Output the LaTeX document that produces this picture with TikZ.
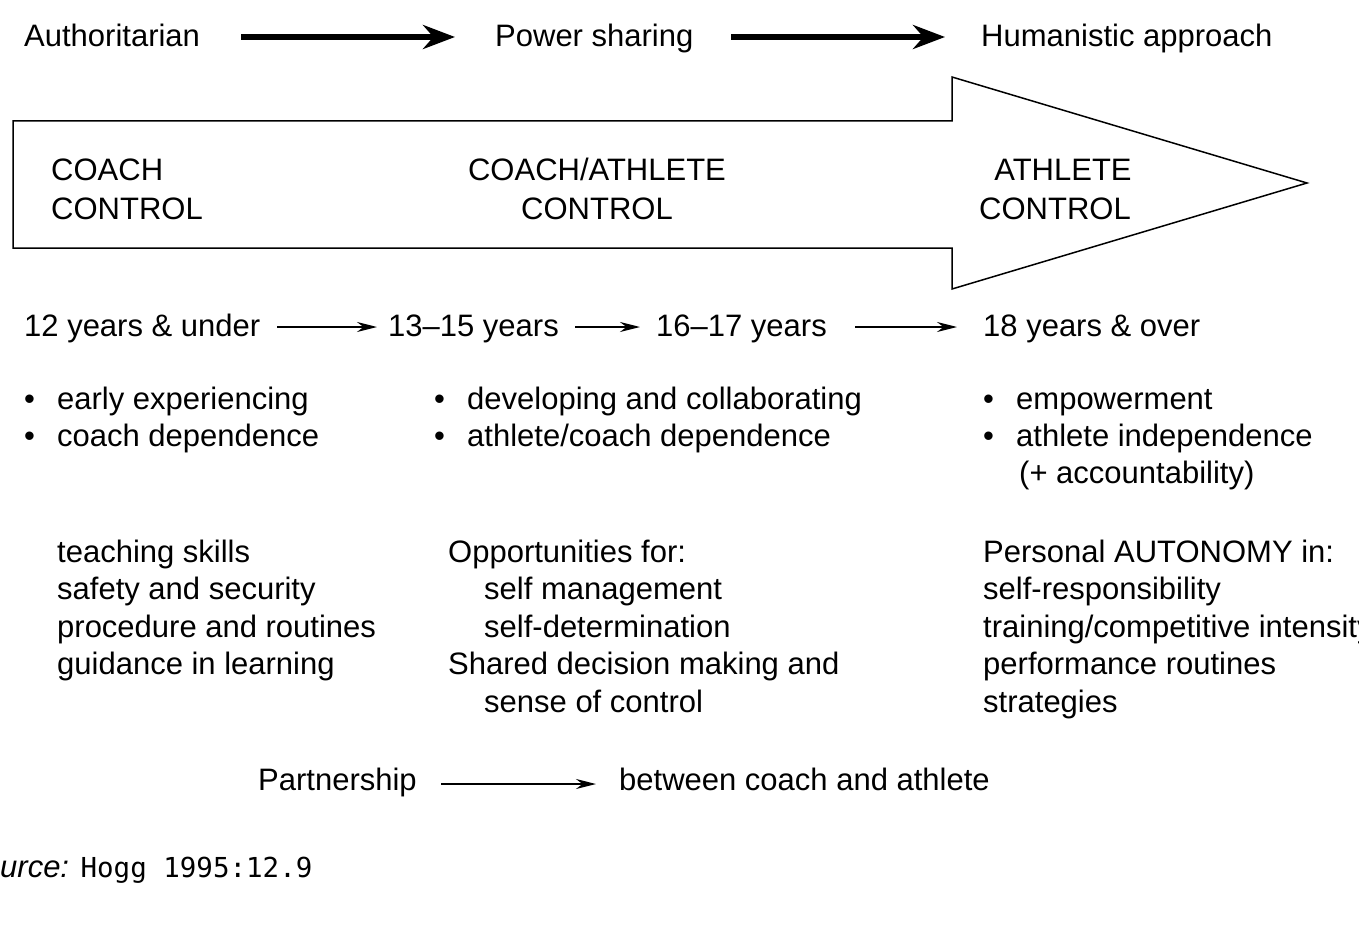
\documentclass[tikz,border=0pt]{standalone}
\usepackage{fontspec}
\setmainfont{Liberation Sans}
\newfontfamily\srcmono{DejaVu Sans Mono}
\usetikzlibrary{arrows.meta}
\begin{document}
\begin{tikzpicture}[x=1pt,y=-1pt,
  t/.style={anchor=base west,inner sep=0pt,font=\fontsize{31}{36}\selectfont},
  tc/.style={anchor=base,inner sep=0pt,font=\fontsize{31}{36}\selectfont},
  bigarr/.style={line width=6pt,-{Stealth[length=32pt,width=24pt]}},
  thinarr/.style={line width=1.6pt,-{Stealth[length=20pt,width=10pt]}}]
\useasboundingbox (0,0) rectangle (1359,931);
% big outline arrow
\draw[line width=1.5pt] (13,121) -- (952,121) -- (952,77) -- (1307,183) -- (952,289) -- (952,248) -- (13,248) -- cycle;
% top row
\node[t] (auth) at (24,47) {Authoritarian};
\node[t] (pow) at (495,47) {Power sharing};
\node[t] (hum) at (981,47) {Humanistic approach};
\coordinate (a1) at (241,37); \coordinate (a2) at (455,37);
\coordinate (a3) at (731,37); \coordinate (a4) at (945,37);
\draw[bigarr] (a1) -- (a2);
\draw[bigarr] (a3) -- (a4);
% control labels
\node[t] (cc1) at (51,180) {COACH};
\node[t] (cc2) at (51,219) {CONTROL};
\node[tc] (ca1) at (597,180) {COACH/ATHLETE};
\node[tc] (ca2) at (597,219) {CONTROL};
\node[tc] (ac1) at (1063,180) {ATHLETE};
\node[tc] (ac2) at (1055,219) {CONTROL};
% ages
\node[t] (g1) at (24,336) {12 years \& under};
\node[t] (g2) at (388,336) {13–15 years};
\node[t] (g3) at (656,336) {16–17 years};
\node[t] (g4) at (983,336) {18 years \& over};
\coordinate (b1) at (277,327); \coordinate (b2) at (377,327);
\coordinate (b3) at (575,327); \coordinate (b4) at (640,327);
\coordinate (b5) at (855,327); \coordinate (b6) at (957,327);
\draw[thinarr] (b1) -- (b2);
\draw[thinarr] (b3) -- (b4);
\draw[thinarr] (b5) -- (b6);
% bullets
\node[t] (l1) at (24,409) {\textbullet};
\node[t] (l2) at (57,409) {early experiencing};
\node[t] (l3) at (24,446) {\textbullet};
\node[t] (l4) at (57,446) {coach dependence};
\node[t] (m1) at (434,409) {\textbullet};
\node[t] (m2) at (467,409) {developing and collaborating};
\node[t] (m3) at (434,446) {\textbullet};
\node[t] (m4) at (467,446) {athlete/coach dependence};
\node[t] (r1) at (983,409) {\textbullet};
\node[t] (r2) at (1016,409) {empowerment};
\node[t] (r3) at (983,446) {\textbullet};
\node[t] (r4) at (1016,446) {athlete independence};
\node[t] (r5) at (1019,483) {(+ accountability)};
% lists
\node[t] (p1) at (57,562) {teaching skills};
\node[t] (p2) at (57,599) {safety and security};
\node[t] (p3) at (57,637) {procedure and routines};
\node[t] (p4) at (57,674) {guidance in learning};
\node[t] (q1) at (448,562) {Opportunities for:};
\node[t] (q2) at (484,599) {self management};
\node[t] (q3) at (484,637) {self-determination};
\node[t] (q4) at (448,674) {Shared decision making and};
\node[t] (q5) at (484,712) {sense of control};
\node[t] (s1) at (983,562) {Personal AUTONOMY in:};
\node[t] (s2) at (983,599) {self-responsibility};
\node[t] (s3) at (983,637) {training/competitive intensity};
\node[t] (s4) at (983,674) {performance routines};
\node[t] (s5) at (983,712) {strategies};
% partnership
\node[t] (pa) at (258,790) {Partnership};
\node[t] (pb) at (619,790) {between coach and athlete};
\coordinate (c1) at (441,784); \coordinate (c2) at (596,784);
\draw[thinarr] (c1) -- (c2);
% source
\node[t] (src) at (0,877) {\itshape urce: \upshape\srcmono\fontsize{27.5}{30}\selectfont Hogg 1995:12.9};
\end{tikzpicture}
\end{document}
